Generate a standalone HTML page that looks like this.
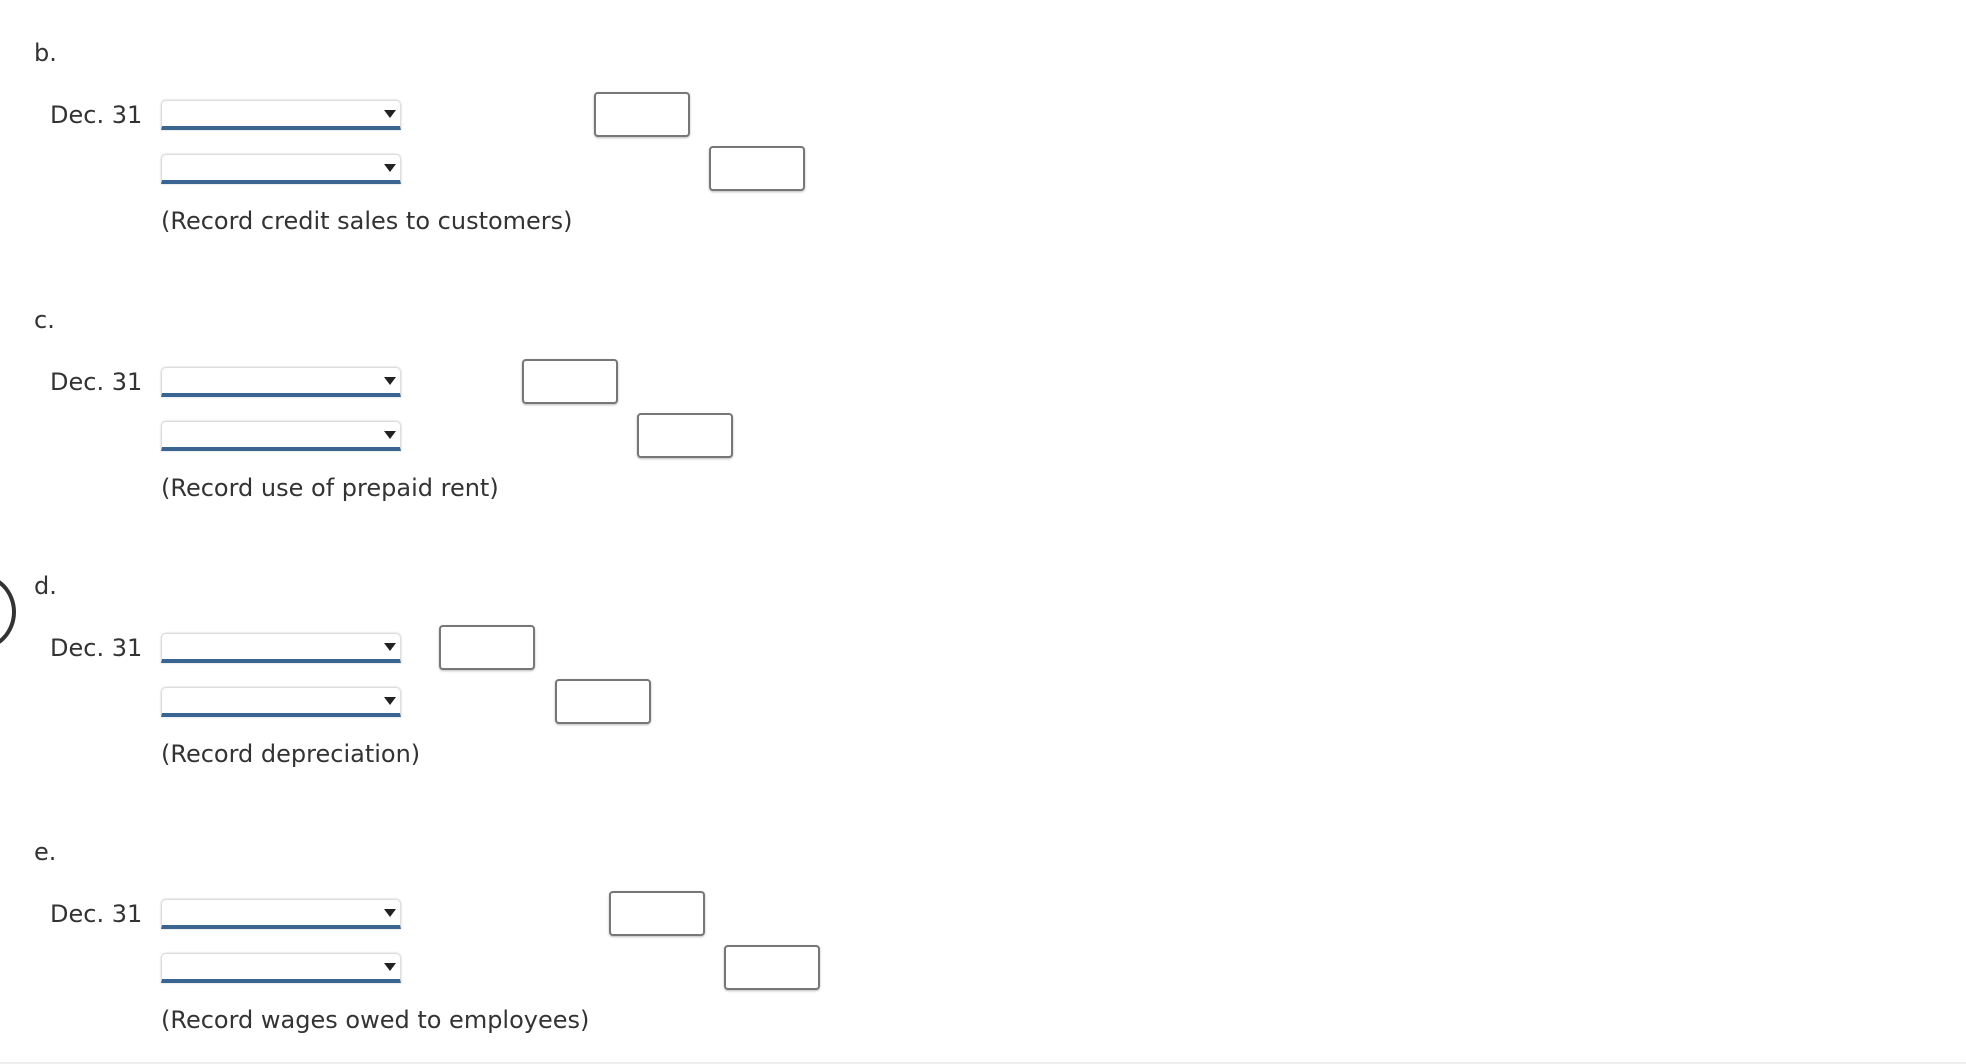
<!DOCTYPE html>
<html><head><style>
body{margin:0;width:1966px;height:1064px;background:#fff;position:relative;overflow:hidden;font-family:"DejaVu Sans","Liberation Sans",sans-serif;color:#333;font-size:24px}
.t{position:absolute;line-height:1;white-space:nowrap}
.dd{position:absolute;left:161px;width:238px;height:25px;border:1px solid #ddd;border-radius:5px 5px 0 0;border-bottom:4px solid #3a6590;background:#fff;box-shadow:0 0 2px #ccc}
.dd:after{content:"";position:absolute;right:4px;top:9px;border-left:6px solid transparent;border-right:6px solid transparent;border-top:8px solid #222}
.bx{position:absolute;width:92px;height:41px;border:2px solid #777;border-radius:4px;background:#fff;box-shadow:0 1px 2px #bbb}
</style></head><body>
<div id="s"></div>
<div style="position:absolute;left:-60px;top:573px;width:68px;height:70px;border:4px solid #333;border-radius:50%"></div>
<div style="position:absolute;left:0;top:1062px;width:1966px;height:2px;background:#eee"></div>
<script>
var secs=[["b.","(Record credit sales to customers)",594,709],["c.","(Record use of prepaid rent)",522,637],["d.","(Record depreciation)",439,555],["e.","(Record wages owed to employees)",609,724]];
var offs=[0,267,533,799],h="";
secs.forEach(function(s,i){var o=offs[i];
h+='<div class="t" style="left:34px;top:'+(41+o)+'px">'+s[0]+'</div>';
h+='<div class="t" style="left:50px;top:'+(103+o)+'px">Dec. 31</div>';
h+='<div class="dd" style="top:'+(100+o)+'px"></div>';
h+='<div class="dd" style="top:'+(154+o)+'px"></div>';
h+='<div class="t" style="left:161px;top:'+(209+o)+'px">'+s[1]+'</div>';
h+='<div class="bx" style="left:'+s[2]+'px;top:'+(92+o)+'px"></div>';
h+='<div class="bx" style="left:'+s[3]+'px;top:'+(146+o)+'px"></div>';});
document.getElementById("s").innerHTML=h;
</script>
</body></html>
